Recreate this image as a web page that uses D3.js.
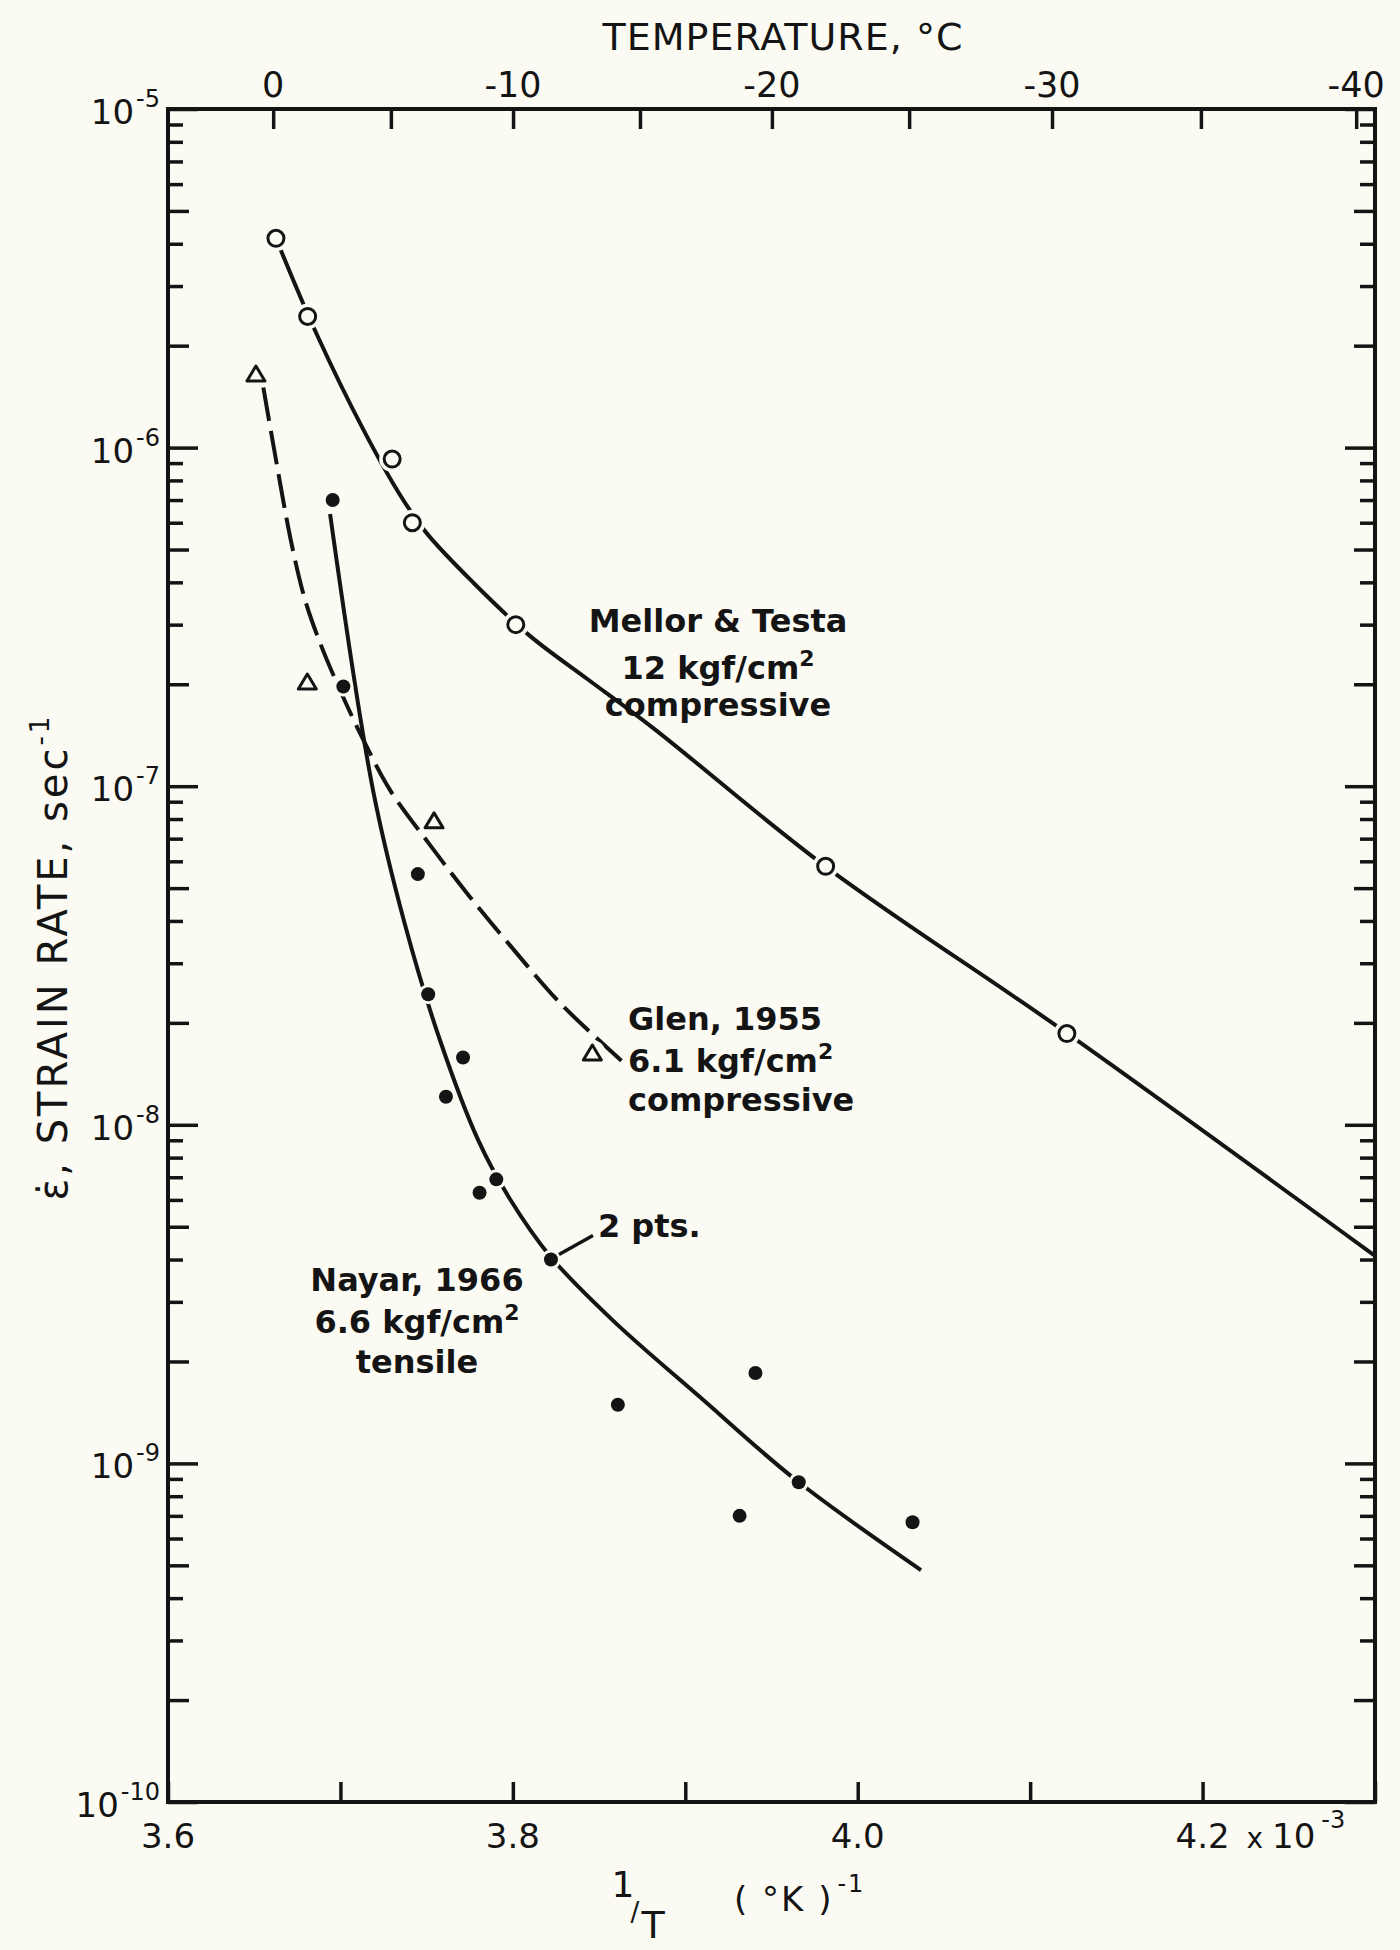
<!DOCTYPE html>
<html>
<head>
<meta charset="utf-8">
<script src="https://cdn.jsdelivr.net/npm/d3@7"></script>
<style>
body { margin: 0; background: #fbfbf3; }
svg { display: block; }
text { font-family: "DejaVu Sans", sans-serif; fill: #141414; }
.note { font-weight: bold; font-size: 32px; }
</style>
</head>
<body>
<div id="chart"></div>
<script>
// 1/T values are in units of 10^-3 (K^-1), rates in sec^-1
var mellorX = [3.6626, 3.681, 3.730, 3.7417, 3.8017, 3.9814, 4.1213];
var mellorRate = [4.15e-6, 2.44e-6, 9.25e-7, 6.0e-7, 3.0e-7, 5.8e-8, 1.86e-8];
var glenX = [3.651, 3.6808, 3.7543, 3.8461];
var glenRate = [1.65e-6, 2.03e-7, 7.9e-8, 1.63e-8];
var nayarX = [3.6955, 3.7017, 3.7449, 3.7509, 3.7711, 3.7612, 3.7904, 3.7807, 3.8221, 3.9407, 3.8609, 3.9658, 3.9315, 4.0318];
var nayarRate = [7.0e-7, 1.97e-7, 5.5e-8, 2.43e-8, 1.58e-8, 1.21e-8, 6.9e-9, 6.3e-9, 4.0e-9, 1.85e-9, 1.49e-9, 8.8e-10, 7.0e-10, 6.7e-10];

// hand drawn curves
var mellorFitX = [3.6626, 3.6862, 3.7133, 3.7345, 3.7500, 3.7771, 3.8099, 3.8428, 3.8814, 3.9814, 4.1213, 4.3];
var mellorFitRate = [4.15e-6, 2.165e-6, 1.13e-6, 7.26e-7, 5.59e-7, 3.99e-7, 2.78e-7, 2.08e-7, 1.485e-7, 5.79e-8, 1.865e-8, 4.1e-9];
var glenFitX = [3.6553, 3.6611, 3.6717, 3.6795, 3.6882, 3.6998, 3.7133, 3.7288, 3.7519, 3.7751, 3.8007, 3.8273, 3.8634];
var glenFitRate = [1.505e-6, 1.018e-6, 5.19e-7, 3.55e-7, 2.65e-7, 1.92e-7, 1.37e-7, 9.74e-8, 6.71e-8, 4.71e-8, 3.28e-8, 2.29e-8, 1.54e-8];
var nayarFitX = [3.6940, 3.7189, 3.7375, 3.7577, 3.7801, 3.7982, 3.8215, 3.8578, 3.9085, 3.9642, 4.0367];
var nayarFitRate = [6.37e-7, 9.74e-8, 3.89e-8, 1.78e-8, 8.96e-9, 6.05e-9, 4.1e-9, 2.65e-9, 1.57e-9, 8.93e-10, 4.84e-10];

// axes
var xTicks = [3.6, 3.7, 3.8, 3.9, 4.0, 4.1, 4.2, 4.3];
var xLabels = [3.6, 3.8, 4.0];
var tempTicks = [0, -5, -10, -15, -20, -25, -30, -35, -40];
var tempLabels = [0, -10, -20, -30, -40];
var yDecades = [-10, -9, -8, -7, -6, -5];

var width = 1400, height = 1950;
var bg = "#fbfbf3", ink = "#141414";

var x = d3.scaleLinear().domain([3.6, 4.3]).range([168, 1375]);
var y = d3.scaleLog().domain([1e-10, 1e-5]).range([1802, 109]);
var toInv = function (t) { return 1000 / (t + 273.15); };

var svg = d3.select("#chart").append("svg")
    .attr("width", width)
    .attr("height", height);

svg.append("rect").attr("width", width).attr("height", height).attr("fill", bg);

// tick values for the log axis
var majors = yDecades.map(function (e) { return Math.pow(10, e); });
var mids = [], minors = [];
yDecades.slice(0, -1).forEach(function (e) {
    [2, 3, 4, 5, 6, 7, 8, 9].forEach(function (m) {
        var v = m * Math.pow(10, e);
        if (m == 2 || m == 5) mids.push(v); else minors.push(v);
    });
});

function styleAxis(g) {
    g.select(".domain").remove();
    g.selectAll("line").attr("stroke", ink).attr("stroke-width", 3.5);
}

[[majors, 30], [mids, 21], [minors, 15]].forEach(function (t) {
    svg.append("g")
        .attr("transform", "translate(" + x.range()[0] + ",0)")
        .call(d3.axisRight(y).tickValues(t[0]).tickSize(t[1]).tickFormat(""))
        .call(styleAxis);
    svg.append("g")
        .attr("transform", "translate(" + x.range()[1] + ",0)")
        .call(d3.axisLeft(y).tickValues(t[0]).tickSize(t[1]).tickFormat(""))
        .call(styleAxis);
});

//x-axis bottom, ticks inward
svg.append("g")
    .attr("transform", "translate(0," + y.range()[0] + ")")
    .call(d3.axisTop(x).tickValues(xTicks).tickSize(20).tickFormat(""))
    .call(styleAxis);

//temperature axis on top
svg.append("g")
    .attr("transform", "translate(0," + y.range()[1] + ")")
    .call(d3.axisBottom(x).tickValues(tempTicks.map(toInv)).tickSize(20).tickFormat(""))
    .call(styleAxis);

// frame
svg.append("rect")
    .attr("x", x.range()[0])
    .attr("y", y.range()[1])
    .attr("width", x.range()[1] - x.range()[0])
    .attr("height", y.range()[0] - y.range()[1])
    .attr("fill", "none")
    .attr("stroke", ink)
    .attr("stroke-width", 4);

// y tick labels
majors.forEach(function (v, i) {
    var t = svg.append("text")
        .attr("x", 160)
        .attr("y", y(v) + 15)
        .attr("text-anchor", "end")
        .attr("font-size", 34);
    t.append("tspan").text("10");
    t.append("tspan").attr("dy", -17).attr("dx", 2).attr("font-size", 24).text("-" + (-yDecades[i]));
});

// x tick labels
xLabels.forEach(function (v) {
    svg.append("text")
        .attr("x", x(v))
        .attr("y", 1848)
        .attr("text-anchor", "middle")
        .attr("font-size", 34)
        .text(v.toFixed(1));
});
svg.append("text")
    .attr("x", x(4.2))
    .attr("y", 1848)
    .attr("text-anchor", "middle")
    .attr("font-size", 34)
    .text("4.2");
var x3 = svg.append("text")
    .attr("x", x(4.2) + 44)
    .attr("y", 1848)
    .attr("font-size", 34);
x3.append("tspan").attr("font-size", 28).text("x ");
x3.append("tspan").text("10");
x3.append("tspan").attr("dy", -20).attr("dx", 6).attr("font-size", 24).text("-3");

// temperature labels
tempLabels.forEach(function (t) {
    svg.append("text")
        .attr("x", x(toInv(t)))
        .attr("y", 97)
        .attr("text-anchor", "middle")
        .attr("font-size", 35)
        .text(t == 0 ? "0" : "-" + (-t));
});

svg.append("text")
    .attr("x", 783)
    .attr("y", 50)
    .attr("text-anchor", "middle")
    .attr("font-size", 38)
    .attr("letter-spacing", 1)
    .text("TEMPERATURE, \u00b0C");

// y title
var yt = svg.append("text")
    .attr("transform", "translate(67,957) rotate(-90)")
    .attr("text-anchor", "middle")
    .attr("font-size", 40)
    .attr("letter-spacing", 3);
yt.append("tspan").text("\u03b5\u0307, STRAIN RATE, sec");
yt.append("tspan").attr("dy", -18).attr("font-size", 26).text("-1");

// x title
svg.append("text").attr("x", 623).attr("y", 1897).attr("text-anchor", "middle").attr("font-size", 36).text("1");
svg.append("text").attr("x", 635).attr("y", 1921).attr("text-anchor", "middle").attr("font-size", 26).text("/");
svg.append("text").attr("x", 653).attr("y", 1938).attr("text-anchor", "middle").attr("font-size", 38).text("T");
var kt = svg.append("text").attr("x", 734).attr("y", 1911).attr("font-size", 34).attr("letter-spacing", 2);
kt.append("tspan").text("( \u00b0K )");
kt.append("tspan").attr("dy", -19).attr("dx", 4).attr("font-size", 24).text("-1");

// curves
function curve(xs, rs) {
    return d3.line()
        .x(function (d, i) { return x(xs[i]); })
        .y(function (d, i) { return y(rs[i]); })
        .curve(d3.curveCatmullRom.alpha(0.5))(xs);
}

svg.append("path").attr("d", curve(mellorFitX, mellorFitRate))
    .attr("fill", "none").attr("stroke", ink).attr("stroke-width", 4);
svg.append("path").attr("d", curve(glenFitX, glenFitRate))
    .attr("fill", "none").attr("stroke", ink).attr("stroke-width", 4)
    .attr("stroke-dasharray", "34,10");
svg.append("path").attr("d", curve(nayarFitX, nayarFitRate))
    .attr("fill", "none").attr("stroke", ink).attr("stroke-width", 4);

// halos so the lines break at the symbols
var halo = svg.append("g").attr("fill", bg);
mellorX.forEach(function (v, i) {
    halo.append("circle").attr("cx", x(v)).attr("cy", y(mellorRate[i])).attr("r", 13);
});
glenX.forEach(function (v, i) {
    halo.append("circle").attr("cx", x(v)).attr("cy", y(glenRate[i])).attr("r", 13);
});
nayarX.forEach(function (v, i) {
    halo.append("circle").attr("cx", x(v)).attr("cy", y(nayarRate[i])).attr("r", 10);
});

// symbols
svg.append("g").selectAll("circle")
    .data(mellorX)
    .enter().append("circle")
    .attr("cx", function (d) { return x(d); })
    .attr("cy", function (d, i) { return y(mellorRate[i]); })
    .attr("r", 8)
    .attr("fill", bg)
    .attr("stroke", ink)
    .attr("stroke-width", 3);

svg.append("g").selectAll("path")
    .data(glenX)
    .enter().append("path")
    .attr("transform", function (d, i) { return "translate(" + x(d) + "," + y(glenRate[i]) + ")"; })
    .attr("d", "M0,-8 L9,7 L-9,7 Z")
    .attr("fill", bg)
    .attr("stroke", ink)
    .attr("stroke-width", 3)
    .attr("stroke-linejoin", "round");

svg.append("g").selectAll("circle")
    .data(nayarX)
    .enter().append("circle")
    .attr("cx", function (d) { return x(d); })
    .attr("cy", function (d, i) { return y(nayarRate[i]); })
    .attr("r", 7)
    .attr("fill", ink);

// annotations
function note(lines, xPos, yPos, anchor) {
    lines.forEach(function (s, i) {
        var t = svg.append("text")
            .attr("class", "note")
            .attr("x", xPos)
            .attr("y", yPos[i])
            .attr("text-anchor", anchor);
        var parts = s.split("^");
        t.append("tspan").text(parts[0]);
        if (parts[1]) t.append("tspan").attr("dy", -13).attr("font-size", 22).text(parts[1]);
    });
}
note(["Mellor & Testa", "12 kgf/cm^2", "compressive"], 718, [632, 679, 716], "middle");
note(["Glen, 1955", "6.1 kgf/cm^2", "compressive"], 628, [1030, 1072, 1111], "start");
note(["Nayar, 1966", "6.6 kgf/cm^2", "tensile"], 417, [1291, 1333, 1373], "middle");

// 2 pts. label with leader
var px = x(nayarX[8]), py = y(nayarRate[8]);
svg.append("line")
    .attr("x1", px + 8).attr("y1", py - 5)
    .attr("x2", px + 42).attr("y2", py - 24)
    .attr("stroke", ink).attr("stroke-width", 3.5);
svg.append("text").attr("class", "note").attr("x", px + 47).attr("y", py - 23).text("2 pts.");
</script>
</body>
</html>
